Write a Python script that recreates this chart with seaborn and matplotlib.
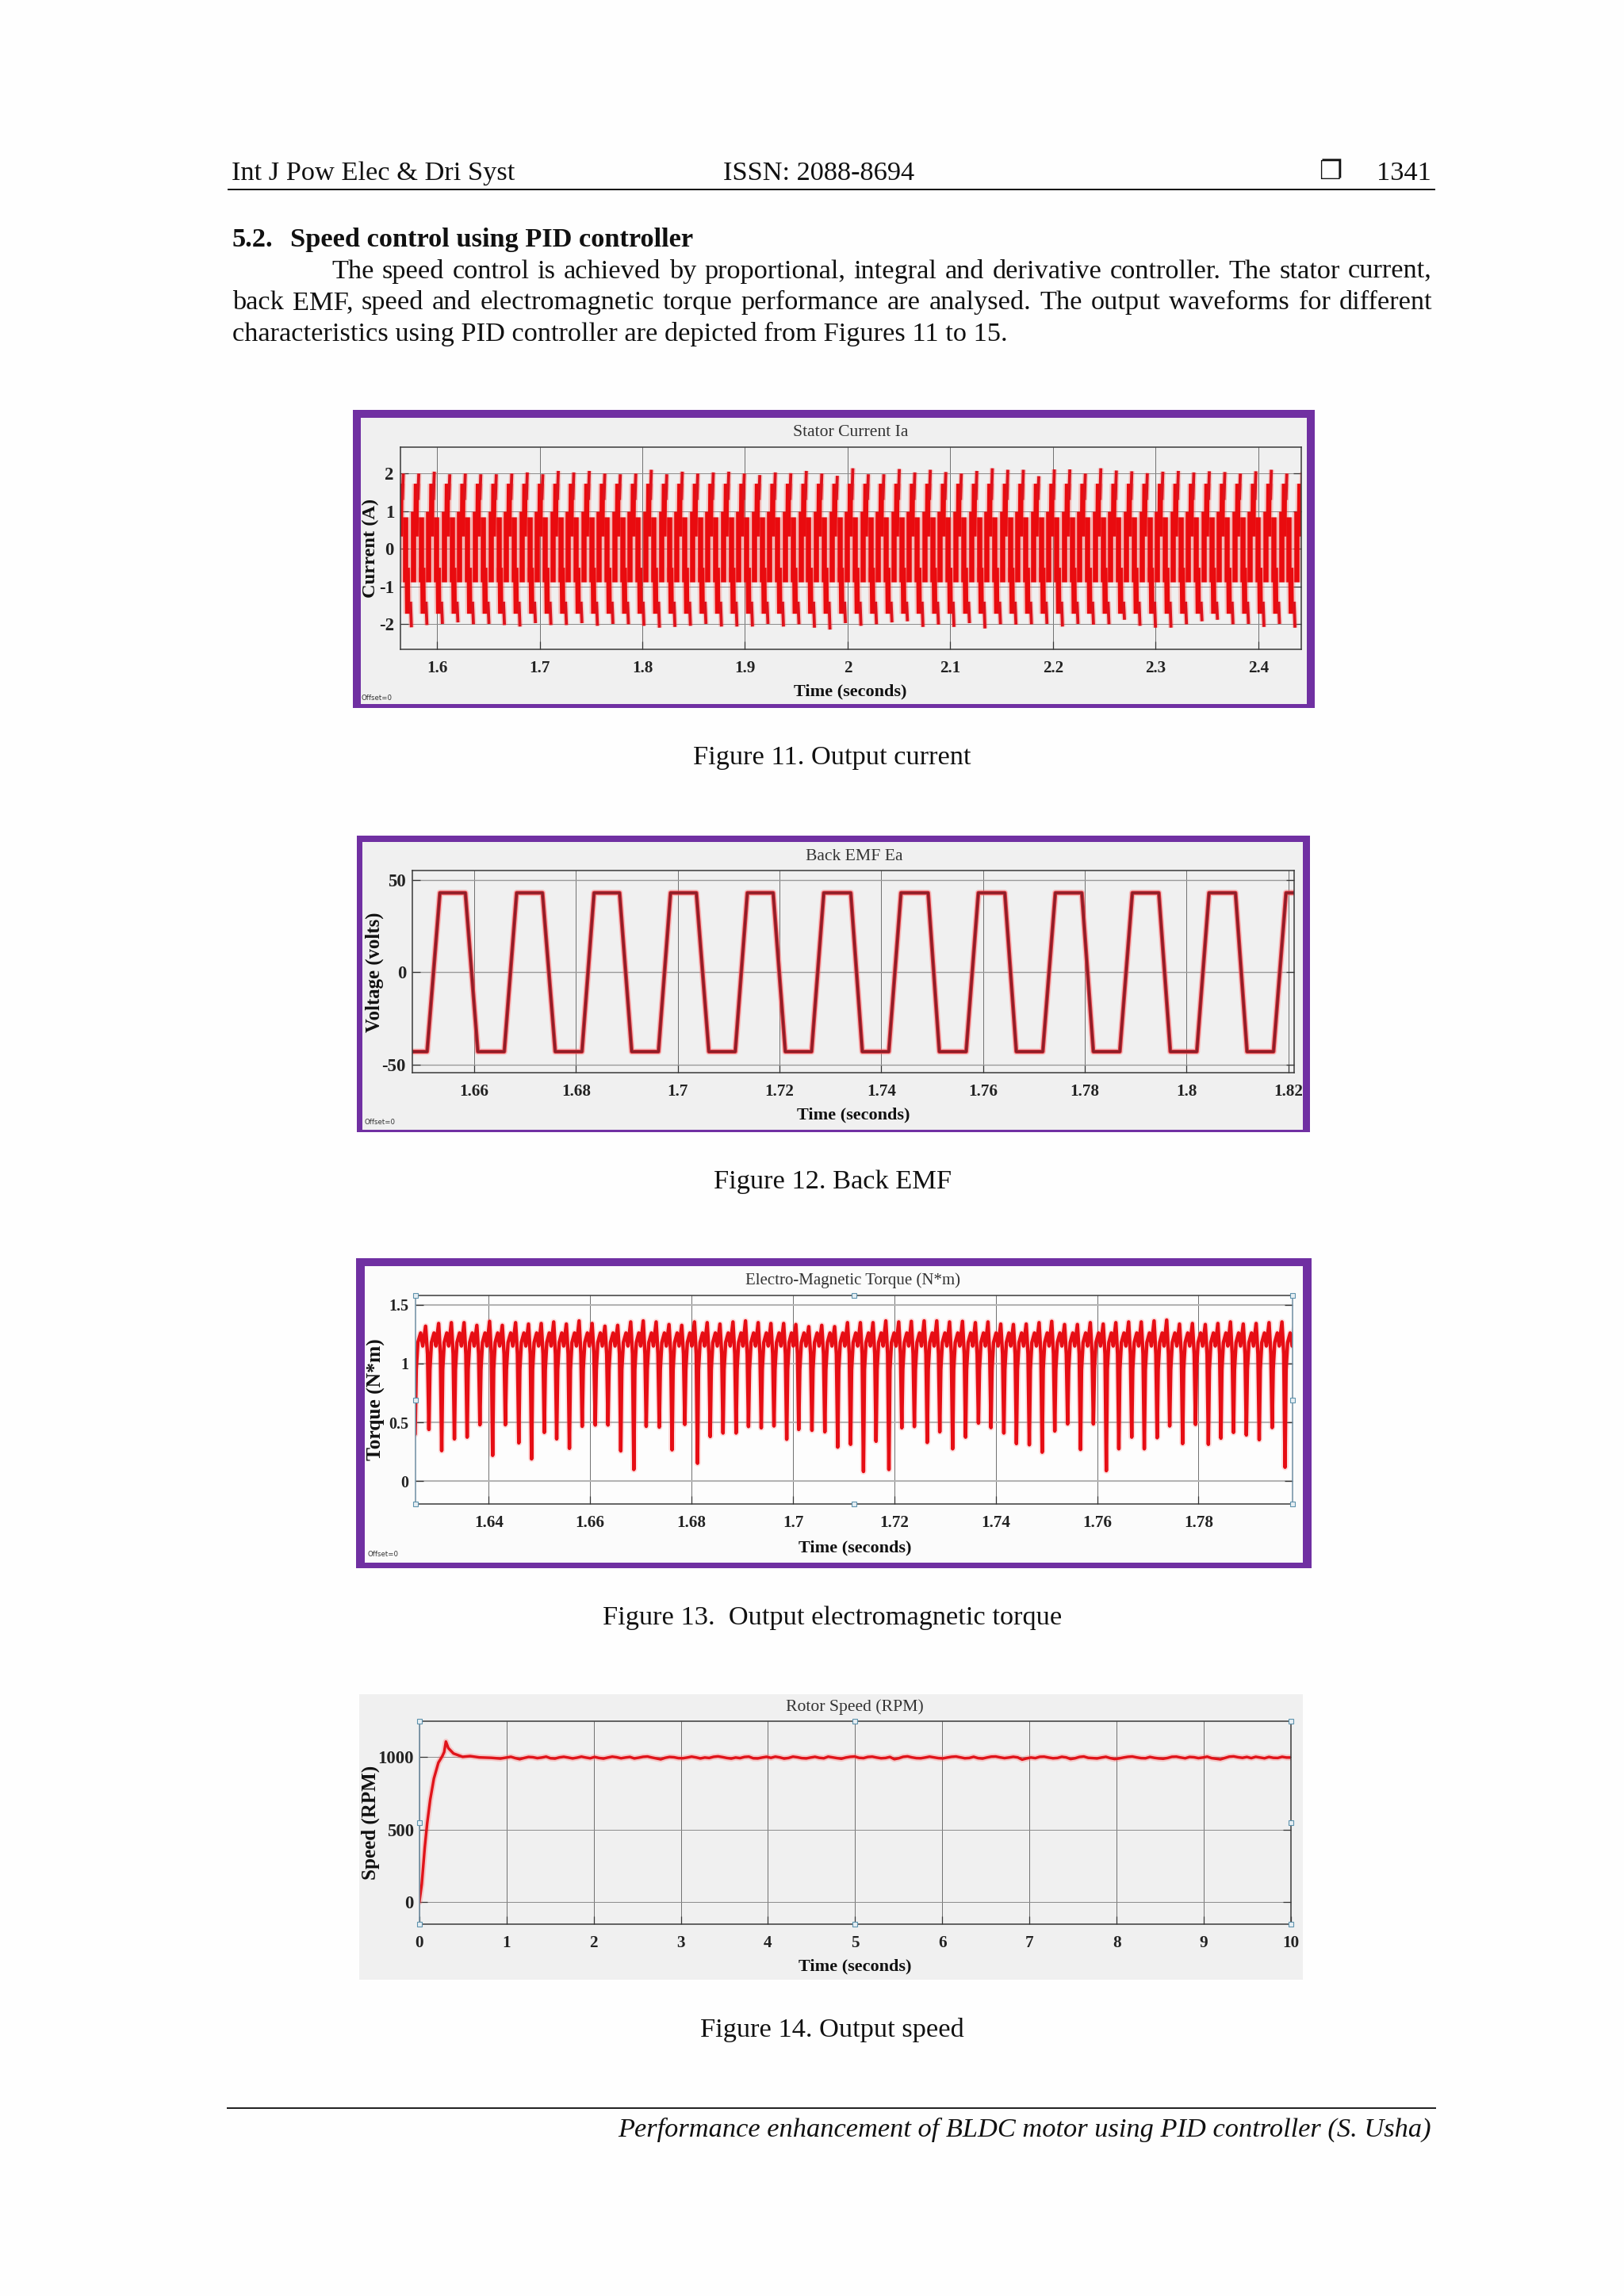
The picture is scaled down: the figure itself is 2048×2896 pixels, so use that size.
import numpy as np
import pandas as pd
import matplotlib
matplotlib.use("Agg")
import matplotlib.pyplot as plt
from matplotlib.patches import Rectangle
import seaborn as sns

# ---------------- data ----------------
current_top = [2.00, 2.00, 2.05, 1.98, 2.00, 1.98, 1.98, 2.00, 2.03, 1.98, 2.07, 2.03, 2.07, 2.00, 1.98,
               2.00, 2.10, 1.98, 2.05, 2.00, 2.03, 2.05, 2.00, 1.96, 2.03, 2.01,
               2.07, 2.00, 1.94, 2.14, 1.98, 1.98, 2.12, 2.03, 2.10, 2.04, 2.00, 2.07, 2.14, 2.10, 2.10,
               1.93, 2.11, 2.11, 2.00, 2.14, 2.08, 2.06, 2.01, 2.05, 2.07, 2.03, 2.06, 2.04, 2.00, 2.06,
               2.10, 2.00, 2.03]
current_bottom = [-2.00, -2.08, -2.02, -1.99, -1.95, -2.00, -1.99, -2.02, -2.06, -1.97, -2.02, -2.02, -1.97,
                  -2.04, -1.99, -2.00, -2.04, -2.09, -2.07, -2.04, -1.99, -2.06, -2.06, -2.06, -1.99, -2.06,
                  -2.00, -2.09,
                  -2.14, -1.97, -2.04, -2.00, -1.95, -1.92, -2.07, -2.01, -2.07, -1.97, -2.11, -2.00, -2.01,
                  -2.00, -1.99, -2.06, -1.99, -2.01, -2.00, -1.88, -2.04, -2.09, -2.09, -2.00, -1.92, -1.88,
                  -2.00, -1.99, -2.07, -1.99, -2.09]
current_first_tip = 1.5600
current_period = 0.0151
current_top_phase = 0.475
# one commutation cycle: (start phase, end phase, start level, end level) of the wide strokes
current_blocks = [(-0.27, -0.24, -0.50, -1.72), (0.10, 0.10, -0.87, 1.00), (0.29, 0.32, 0.33, 1.73), (0.61, 0.61, 0.85, -0.87)]

emf_time = [1.64785, 1.65075, 1.65326, 1.65827, 1.66072, 1.66591, 1.66835, 1.67342, 1.67593, 1.68118, 1.68356,
            1.68857, 1.69096, 1.69621, 1.69859, 1.70366, 1.70611, 1.71130, 1.71368, 1.71875, 1.72114, 1.72630,
            1.72870, 1.73400, 1.73627, 1.74147, 1.74387, 1.74920, 1.75140, 1.75667, 1.75907, 1.76427, 1.76653,
            1.77173, 1.77420, 1.77940, 1.78167, 1.78687, 1.78933, 1.79453, 1.79680, 1.80200, 1.80440, 1.80960,
            1.81187, 1.81707, 1.81953, 1.82107]
emf_volt = [-43, -43, 43, 43, -43, -43, 43, 43, -43, -43, 43, 43, -43, -43, 43, 43, -43, -43, 43, 43, -43, -43,
            43, 43, -43, -43, 43, 43, -43, -43, 43, 43, -43, -43, 43, 43, -43, -43, 43, 43, -43, -43, 43, 43,
            -43, -43, 43, 43]

torque_dip_time = [1.62548, 1.6282, 1.63072, 1.63323, 1.63574, 1.63826, 1.64077, 1.64328, 1.64593, 1.64845,
                   1.65096, 1.6534, 1.65591, 1.65843, 1.66101, 1.66352, 1.66604, 1.66862, 1.67106, 1.67364,
                   1.67616, 1.67867, 1.68118, 1.68369, 1.68621, 1.68879, 1.69123, 1.69375, 1.69626, 1.69877,
                   1.70114, 1.70375, 1.70629, 1.70883, 1.71137, 1.71391, 1.71639, 1.71893, 1.72147, 1.72395,
                   1.72649, 1.72896, 1.7315, 1.73405, 1.73659, 1.73906, 1.7416, 1.74408, 1.74662, 1.74916,
                   1.75164, 1.75418, 1.75672, 1.75926, 1.76181, 1.76428, 1.76682, 1.7693, 1.77184, 1.77431,
                   1.77686, 1.7794, 1.78194, 1.78441, 1.78689, 1.78943, 1.79197, 1.79452, 1.79706, 1.79960]
torque_dip = [.40, .44, .26, .36, .375, .48, .22, .48, .326, .19, .415, .36, .28, .467, .478, .478, .258, .10,
              .467, .46, .267, .483, .153, .38, .41, .41, .465, .454, .47, .357,
              .44, .433, .42, .29, .314, .083, .34, .10, .454, .465, .33, .42, .276, .375, .494, .456, .41, .32,
              .31, .247, .427, .487, .27, .487, .09, .276, .375, .276, .37, .47, .32, .483, .314, .366, .415,
              .393, .353, .456, .119, .40]
torque_crest = [1.318, 1.341, 1.348, 1.348, 1.325, 1.359, 1.325, 1.348, 1.336, 1.341, 1.354, 1.336, 1.363, 1.341,
                1.318, 1.325, 1.354, 1.363, 1.354, 1.332, 1.325, 1.354, 1.348, 1.336, 1.354, 1.363, 1.348, 1.341,
                1.341, 1.332, 1.314, 1.325, 1.314, 1.348, 1.348, 1.348, 1.363, 1.354, 1.359, 1.363, 1.363, 1.354,
                1.359, 1.348, 1.354, 1.336, 1.332, 1.336, 1.348, 1.359, 1.332, 1.332, 1.348, 1.336, 1.348, 1.354,
                1.354, 1.363, 1.370, 1.336, 1.341, 1.332, 1.341, 1.354, 1.336, 1.341, 1.348, 1.354, 1.303]
torque_phase = [0.08, 0.20, 0.40, 0.55, 0.76, 0.90]
torque_shoulder = [0.95, 1.18, 1.26, 1.15, None, 1.08]

speed_rise_time = [0.0, 0.028, 0.0625, 0.09, 0.125, 0.167, 0.219, 0.264, 0.285, 0.305, 0.333, 0.392, 0.497, 0.583,
                   0.6875, 0.826, 0.93]
speed_rise = [0, 124, 379, 543, 707, 852, 962, 1007, 1035, 1107, 1062, 1025, 1002, 1007, 998, 995, 990]
speed_hold = [997, 1002, 993, 986, 994, 1001, 999, 993, 997, 1003, 992, 990, 998, 1002, 997, 991, 996, 1003, 997, 992,
              1001, 994, 990, 997, 1003, 999, 992, 997, 1001, 991, 996, 1002, 1004, 997, 991, 985, 995, 1001, 999, 993,
              992, 997, 1003, 998, 991, 997, 994, 1002, 1005, 1000, 994, 990, 997, 993, 1001, 1003, 992, 991, 997,
              1002, 995, 1003, 998, 990, 994, 1003, 999, 993, 991, 997, 1002, 995, 992, 1003, 998, 993, 989, 997, 1002,
              1004, 995, 993, 1001, 1003, 997, 992, 994, 1001, 986, 992, 1002, 1005, 998, 993, 992, 997, 1003, 998,
              993, 991, 997, 1002, 1004, 998, 992, 994, 1002, 993, 990, 997, 1003, 1004, 998, 993, 997, 1002, 998, 983,
              991, 997, 993, 1002, 1003, 997, 992, 994, 1002, 998, 987, 992, 1001, 1004, 995, 993, 991, 997, 1002, 993,
              987, 991, 997, 1002, 1004, 998, 993, 992, 1001, 995, 991, 989, 994, 1002, 1003, 997, 992, 1001, 999, 993,
              997, 1003, 993, 989, 985, 994, 1003, 1005, 999, 995, 1001, 993, 1002, 997, 992, 1001, 995, 994, 1002, 997, 997]

current_xticks = [1.6, 1.7, 1.8, 1.9, 2.0, 2.1, 2.2, 2.3, 2.4]
current_xlabels = ["1.6", "1.7", "1.8", "1.9", "2", "2.1", "2.2", "2.3", "2.4"]
current_yticks = [-2, -1, 0, 1, 2]
emf_xticks = [1.66, 1.68, 1.70, 1.72, 1.74, 1.76, 1.78, 1.80, 1.82]
emf_xlabels = ["1.66", "1.68", "1.7", "1.72", "1.74", "1.76", "1.78", "1.8", "1.82"]
emf_yticks = [-50, 0, 50]
torque_xticks = [1.64, 1.66, 1.68, 1.70, 1.72, 1.74, 1.76, 1.78]
torque_xlabels = ["1.64", "1.66", "1.68", "1.7", "1.72", "1.74", "1.76", "1.78"]
torque_yticks = [0, 0.5, 1, 1.5]
torque_ylabels = ["0", "0.5", "1", "1.5"]
speed_xticks = list(range(0, 11))
speed_yticks = [0, 500, 1000]

body_lines = [
    (418, 350.7, 1806, "The speed control is achieved by proportional, integral and derivative controller. The stator current,"),
    (293, 390.0, 1806, "back EMF, speed and electromagnetic torque performance are analysed. The output waveforms for different"),
    (293, 430.0, None, "characteristics using PID controller are depicted from Figures 11 to 15."),
]

# ---------------- page ----------------
W, H, DPI = 2048, 2896, 200
PX = 72.0 / DPI
sns.set_theme(style="white")
plt.rcParams["font.family"] = ["Liberation Serif", "DejaVu Serif"]
plt.rcParams["axes.unicode_minus"] = False
fig = plt.figure(figsize=(W / DPI, H / DPI), dpi=DPI, facecolor="#fefefe")
PAGE_FS = 34.4 * PX
PURPLE = "#7030a2"


def rect(l, t, r, b, color, z=0):
    fig.add_artist(Rectangle((l / W, 1 - b / H), (r - l) / W, (b - t) / H, transform=fig.transFigure,
                             facecolor=color, edgecolor="none", zorder=z))


def ftext(x, y, s, **kw):
    kw.setdefault("fontsize", PAGE_FS)
    kw.setdefault("color", "#111111")
    kw.setdefault("va", "baseline")
    return fig.text(x / W, 1 - y / H, s, **kw)


def panel(box, ranges, title, title_pos, hgrid="#8a8a8a", hlw=0.35, side="#3a3a3a", bg="#f0f0f0", pad_x=5.0, pad_y=8):
    l, t, r, b = box
    ax = fig.add_axes([l / W, 1 - b / H, (r - l) / W, (b - t) / H], facecolor=bg, zorder=5)
    ax.set_xlim(*ranges[0])
    ax.set_ylim(*ranges[1])
    ax.grid(True, axis="x", color="#6f6f6f", linewidth=0.35)
    ax.grid(True, axis="y", color=hgrid, linewidth=hlw)
    ax.set_axisbelow(True)
    for name, sp in ax.spines.items():
        sp.set_visible(True)
        sp.set_color("#3a3a3a" if name in ("top", "bottom") else side)
        sp.set_linewidth(0.55)
    ax.tick_params(axis="y", direction="in", length=3.5, width=0.45, color="#333333", left=True, right=True,
                   pad=pad_y * PX, labelsize=8.2)
    ax.tick_params(axis="x", direction="in", length=3.5, width=0.45, color="#333333", bottom=True, top=False,
                   pad=pad_x, labelsize=7.6)
    ax.set_title(title, x=(title_pos[0] - l) / (r - l), y=(b - title_pos[1]) / (b - t), va="center",
                 fontsize=title_pos[2], color="#333333", pad=0)
    return ax


def finish(ax, xt, xl, yt, yl, xlabel, xlabel_pos, ylabel, ylabel_pos, yfs):
    ax.set_xticks(xt, labels=xl, fontweight="bold", color="#222222")
    ax.set_yticks(yt, labels=yl if yl else [str(v) for v in yt], fontweight="bold", color="#222222")
    ax.set_xlabel(xlabel, fontweight="bold", fontsize=8.0, va="center", color="#111111")
    ax.xaxis.set_label_coords(xlabel_pos[0] / W, 1 - xlabel_pos[1] / H, transform=fig.transFigure)
    ax.set_ylabel(ylabel, fontweight="bold", fontsize=yfs, va="center", color="#111111")
    ax.yaxis.set_label_coords(ylabel_pos[0] / W, 1 - ylabel_pos[1] / H, transform=fig.transFigure)


def handles(ax):
    fx = [0, 0.5, 1, 0, 1, 0, 0.5, 1]
    fy = [0, 0, 0, 0.5, 0.5, 1, 1, 1]
    ax.plot(fx, fy, ls="", marker="s", ms=5.5 * PX, mfc="#e6eef3", mec="#5f93ad", mew=0.4,
            transform=ax.transAxes, clip_on=False, zorder=6)


def offset(x, y):
    ftext(x, y, "Offset=0", family="DejaVu Sans", fontsize=3.1, va="center", color="#333333", zorder=3)


# frames
rect(444.5, 516.7, 1658, 893, PURPLE)
rect(455, 526.7, 1648, 888, "#f0f0f0", 1)
rect(450, 1054, 1651.7, 1428, PURPLE)
rect(457, 1061.7, 1643, 1425, "#f0f0f0", 1)
rect(449, 1586.7, 1653.8, 1978.3, PURPLE)
rect(460, 1596.7, 1643, 1970.7, "#fbfbfb", 1)
rect(453, 2136.7, 1643, 2496.7, "#f0f0f0", 1)

# ---------------- Figure 11 ----------------
ax1 = panel((505, 564, 1641, 819.3), ((1.5644, 2.4419), (-2.67, 2.70)), "Stator Current Ia", (1073, 546, 7.8))
rows_wide, rows_tip = [], []
unit = 0
for k, (hi, lo) in enumerate(zip(current_top, current_bottom)):
    tip = current_first_tip + k * current_period
    for ph0, ph1, a, b in current_blocks:
        rows_wide.append((tip + ph0 * current_period, a, unit))
        rows_wide.append((tip + ph1 * current_period, b, unit))
        unit += 1
    rows_tip += [(tip - 0.06 * current_period, -1.4, unit), (tip, lo, unit)]
    unit += 1
    rows_tip += [((tip + (current_top_phase - 0.06) * current_period), 1.3, unit),
                 (tip + current_top_phase * current_period, hi, unit)]
    unit += 1
wide = pd.DataFrame(rows_wide, columns=["t", "i", "u"])
tips = pd.DataFrame(rows_tip, columns=["t", "i", "u"])
common = dict(x="t", y="i", units="u", estimator=None, sort=False, legend=False, ax=ax1, solid_capstyle="butt")
sns.lineplot(data=wide, color="#ff4a40", alpha=0.25, linewidth=11 * PX, **common)
sns.lineplot(data=tips, color="#ff4a40", alpha=0.25, linewidth=7 * PX, **common)
sns.lineplot(data=wide, color="#e90b0f", linewidth=6.6 * PX, **common)
sns.lineplot(data=tips, color="#dd121c", linewidth=3.8 * PX, **common)
finish(ax1, current_xticks, current_xlabels, current_yticks, None,
       "Time (seconds)", (1072.6, 872.3), "Current (A)", (467, 691.7), 8.8)
offset(456, 880.7)

# ---------------- Figure 12 ----------------
ax2 = panel((520, 1098, 1631.6, 1353), ((1.64785, 1.82106), (-54.4, 55.1)), "Back EMF Ea", (1077, 1080.7, 7.8),
            hgrid="#9a9a9a", hlw=0.5)
emf = pd.DataFrame({"t": emf_time, "v": emf_volt})
for colour, alpha, lw in [("#ff6a6a", 0.35, 8), ("#e23a42", 1, 5), ("#8f1e28", 1, 3.2)]:
    sns.lineplot(data=emf, x="t", y="v", estimator=None, sort=False, legend=False, ax=ax2,
                 color=colour, alpha=alpha, linewidth=lw * PX)
finish(ax2, emf_xticks, emf_xlabels, emf_yticks, None,
       "Time (seconds)", (1076.5, 1406.7), "Voltage (volts)", (472.5, 1226), 8.9)
offset(460, 1415)

# ---------------- Figure 13 ----------------
ax3 = panel((523.5, 1634.3, 1630, 1897.3), ((1.62548, 1.79854), (-0.195, 1.577)),
            "Electro-Magnetic Torque (N*m)", (1076, 1615, 7.5),
            hgrid="#b4b4b4", hlw=0.75, side="#6f8ea2", bg="#fdfdfd")
torque_t, torque_v = [], []
for k, crest in enumerate(torque_crest):
    t0, t1 = torque_dip_time[k], torque_dip_time[k + 1]
    torque_t.append(t0)
    torque_v.append(torque_dip[k])
    for f, level in zip(torque_phase, torque_shoulder):
        torque_t.append(t0 + f * (t1 - t0))
        torque_v.append(crest if level is None else level)
torque = pd.DataFrame({"t": torque_t, "v": torque_v})
for colour, alpha, lw in [("#ff7070", 0.22, 8), ("#e60d14", 1, 4.4)]:
    sns.lineplot(data=torque, x="t", y="v", estimator=None, sort=False, legend=False, ax=ax3,
                 color=colour, alpha=alpha, linewidth=lw * PX)
finish(ax3, torque_xticks, torque_xlabels, torque_yticks, torque_ylabels,
       "Time (seconds)", (1078, 1952.7), "Torque (N*m)", (474, 1765), 9.2)
ax3.tick_params(axis="y", labelsize=7.2)
handles(ax3)
offset(463, 1960.7)

# ---------------- Figure 14 ----------------
ax4 = panel((528.8, 2171, 1628, 2427.3), ((0, 10), (-153, 1247.5)), "Rotor Speed (RPM)", (1078, 2152.7, 7.8), pad_y=7)
ax4.spines["left"].set_color("#6f8ea2")
speed_time = speed_rise_time + list(np.arange(1.0, 10.0 + 1e-6, 9.0 / (len(speed_hold) - 1)))
speed = pd.DataFrame({"t": speed_time, "n": speed_rise + speed_hold})
for colour, alpha, lw in [("#ff7070", 0.3, 7.5), ("#e0141a", 1, 3.4)]:
    sns.lineplot(data=speed, x="t", y="n", estimator=None, sort=False, legend=False, ax=ax4,
                 color=colour, alpha=alpha, linewidth=lw * PX)
finish(ax4, speed_xticks, [str(v) for v in speed_xticks], speed_yticks, None,
       "Time (seconds)", (1078, 2480.7), "Speed (RPM)", (467.5, 2299), 9.0)
handles(ax4)

# ---------------- page text ----------------
ftext(292, 226.7, "Int J Pow Elec & Dri Syst")
ftext(912, 226.7, "ISSN: 2088-8694")
ftext(1678, 226, "\u2750", family="DejaVu Sans", fontsize=PAGE_FS * 0.95, ha="center")
ftext(1805, 226.7, "1341", ha="right")
rect(287, 237.5, 1810, 239.8, "#111111", 2)
ftext(293, 311, "5.2.", fontweight="bold")
ftext(366, 311, "Speed control using PID controller", fontweight="bold")

fig.canvas.draw()
renderer = fig.canvas.get_renderer()
for x0, y0, x1, line in body_lines:
    words = line.split(" ")
    if x1 is None:
        ftext(x0, y0, line)
        continue
    pieces = [ftext(x0, y0, w) for w in words]
    widths = [p.get_window_extent(renderer).width for p in pieces]
    gap = (x1 - x0 - sum(widths)) / (len(words) - 1)
    x = x0
    for p, w in zip(pieces, widths):
        p.set_x(x / W)
        x += w + gap

ftext(1049.6, 964, "Figure 11. Output current", ha="center")
ftext(1049.6, 1499, "Figure 12. Back EMF", ha="center")
ftext(1049.6, 2049, "Figure 13.  Output electromagnetic torque", ha="center")
ftext(1049.6, 2569, "Figure 14. Output speed", ha="center")
rect(286, 2658, 1811, 2660.2, "#222222", 2)
ftext(1805, 2695, "Performance enhancement of BLDC motor using PID controller (S. Usha)", ha="right", style="italic")

fig.savefig("out.png", dpi=DPI, facecolor=fig.get_facecolor())
